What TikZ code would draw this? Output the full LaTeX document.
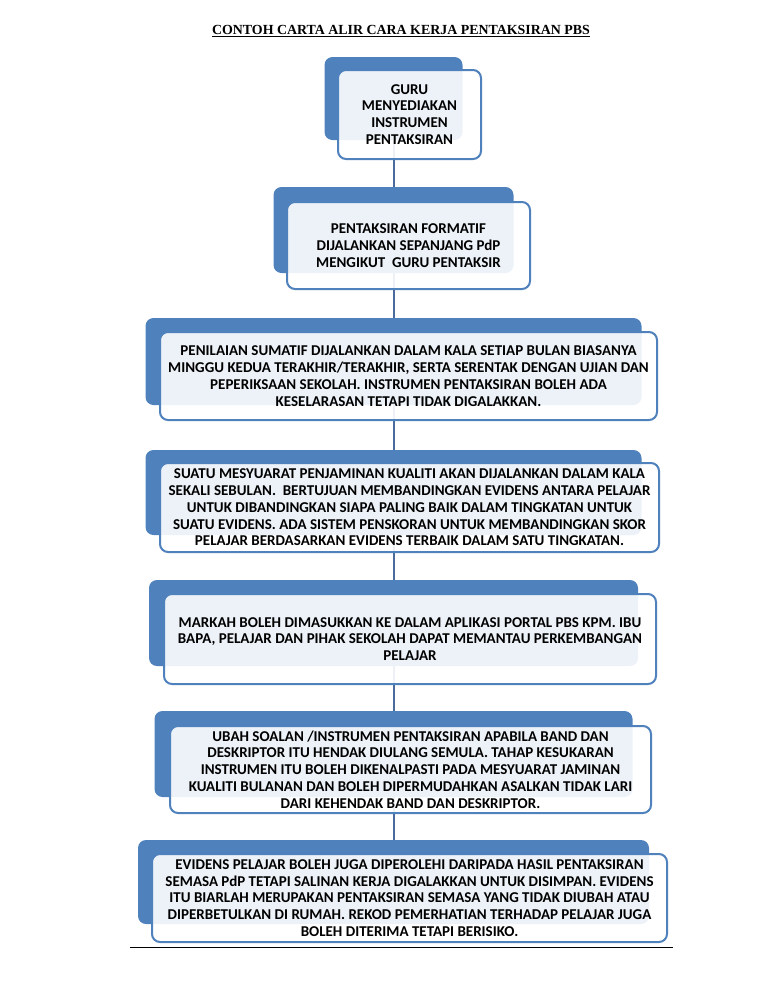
\documentclass[tikz,border=0pt]{standalone}
\usepackage{fontspec}
\setmainfont{Carlito}
\newfontfamily\titlefont{Liberation Serif}
\usetikzlibrary{backgrounds}
\definecolor{backblue}{HTML}{4F81BD}
\definecolor{linkblue}{HTML}{4A6B9C}
\tikzset{
  backbox/.style={rectangle, rounded corners=8pt, fill=backblue, inner sep=0pt},
  frontbox/.style={rectangle, rounded corners=8pt, draw=backblue, line width=2pt,
    fill=white, fill opacity=0.9, text opacity=1, align=center, inner sep=0pt,
    font=\bfseries\fontsize{15}{16.8}\selectfont},
  link/.style={draw=linkblue, line width=2pt}
}
\begin{document}
\begin{tikzpicture}[x=1pt,y=-1pt]
\useasboundingbox (0,0) rectangle (768,994);

\node (title) at (401,31)
  {\titlefont\bfseries\fontsize{13.9}{16}\selectfont\underline{CONTOH CARTA ALIR CARA KERJA PENTAKSIRAN PBS}};

% langkah 1
\node[backbox, minimum width=138pt, minimum height=83pt] (b1) at (393.5,98.5) {};
\node[frontbox, minimum width=143pt, minimum height=89pt] (f1) at (409.5,114.5)
  {GURU\\MENYEDIAKAN\\INSTRUMEN\\PENTAKSIRAN};

% langkah 2
\node[backbox, minimum width=240pt, minimum height=86pt] (b2) at (393.5,230) {};
\node[frontbox, minimum width=243pt, minimum height=87pt] (f2) at (408.5,245.5)
  {PENTAKSIRAN FORMATIF\\DIJALANKAN SEPANJANG PdP\\MENGIKUT\ \ GURU PENTAKSIR};

% langkah 3
\node[backbox, minimum width=496pt, minimum height=87pt] (b3) at (393.5,361.5) {};
\node[frontbox, minimum width=497pt, minimum height=88pt] (f3) at (408.5,376)
  {PENILAIAN SUMATIF DIJALANKAN DALAM KALA SETIAP BULAN BIASANYA\\
   MINGGU KEDUA TERAKHIR/TERAKHIR, SERTA SERENTAK DENGAN UJIAN DAN\\
   PEPERIKSAAN SEKOLAH. INSTRUMEN PENTAKSIRAN BOLEH ADA\\
   KESELARASAN TETAPI TIDAK DIGALAKKAN.};

% langkah 4
\node[backbox, minimum width=496pt, minimum height=85pt] (b4) at (393.5,492.5) {};
\node[frontbox, minimum width=499pt, minimum height=89pt] (f4) at (409.5,507.5)
  {SUATU MESYUARAT PENJAMINAN KUALITI AKAN DIJALANKAN DALAM KALA\\
   SEKALI SEBULAN.\ \ BERTUJUAN MEMBANDINGKAN EVIDENS ANTARA PELAJAR\\
   UNTUK DIBANDINGKAN SIAPA PALING BAIK DALAM TINGKATAN UNTUK\\
   SUATU EVIDENS. ADA SISTEM PENSKORAN UNTUK MEMBANDINGKAN SKOR\\
   PELAJAR BERDASARKAN EVIDENS TERBAIK DALAM SATU TINGKATAN.};

% langkah 5
\node[backbox, minimum width=489pt, minimum height=86pt] (b5) at (393.5,623) {};
\node[frontbox, minimum width=492pt, minimum height=90pt] (f5) at (410,639)
  {MARKAH BOLEH DIMASUKKAN KE DALAM APLIKASI PORTAL PBS KPM. IBU\\
   BAPA, PELAJAR DAN PIHAK SEKOLAH DAPAT MEMANTAU PERKEMBANGAN\\
   PELAJAR};

% langkah 6
\node[backbox, minimum width=478pt, minimum height=86pt] (b6) at (393.5,754) {};
\node[frontbox, minimum width=481pt, minimum height=87pt] (f6) at (410.5,769.5)
  {UBAH SOALAN /INSTRUMEN PENTAKSIRAN APABILA BAND DAN\\
   DESKRIPTOR ITU HENDAK DIULANG SEMULA. TAHAP KESUKARAN\\
   INSTRUMEN ITU BOLEH DIKENALPASTI PADA MESYUARAT JAMINAN\\
   KUALITI BULANAN DAN BOLEH DIPERMUDAHKAN ASALKAN TIDAK LARI\\
   DARI KEHENDAK BAND DAN DESKRIPTOR.};

% langkah 7
\node[backbox, minimum width=511pt, minimum height=84pt] (b7) at (393.5,882) {};
\node[frontbox, minimum width=515pt, minimum height=88pt] (f7) at (409.5,898)
  {EVIDENS PELAJAR BOLEH JUGA DIPEROLEHI DARIPADA HASIL PENTAKSIRAN\\
   SEMASA PdP TETAPI SALINAN KERJA DIGALAKKAN UNTUK DISIMPAN. EVIDENS\\
   ITU BIARLAH MERUPAKAN PENTAKSIRAN SEMASA YANG TIDAK DIUBAH ATAU\\
   DIPERBETULKAN DI RUMAH. REKOD PEMERHATIAN TERHADAP PELAJAR JUGA\\
   BOLEH DITERIMA TETAPI BERISIKO.};

\begin{pgfonlayer}{background}
\foreach \i [count=\j from 2] in {1,...,6}
  \draw[link] (b\i) -- (b\j);
\end{pgfonlayer}

\draw[line width=1pt] (130,947) -- (673,947);
\end{tikzpicture}
\end{document}
